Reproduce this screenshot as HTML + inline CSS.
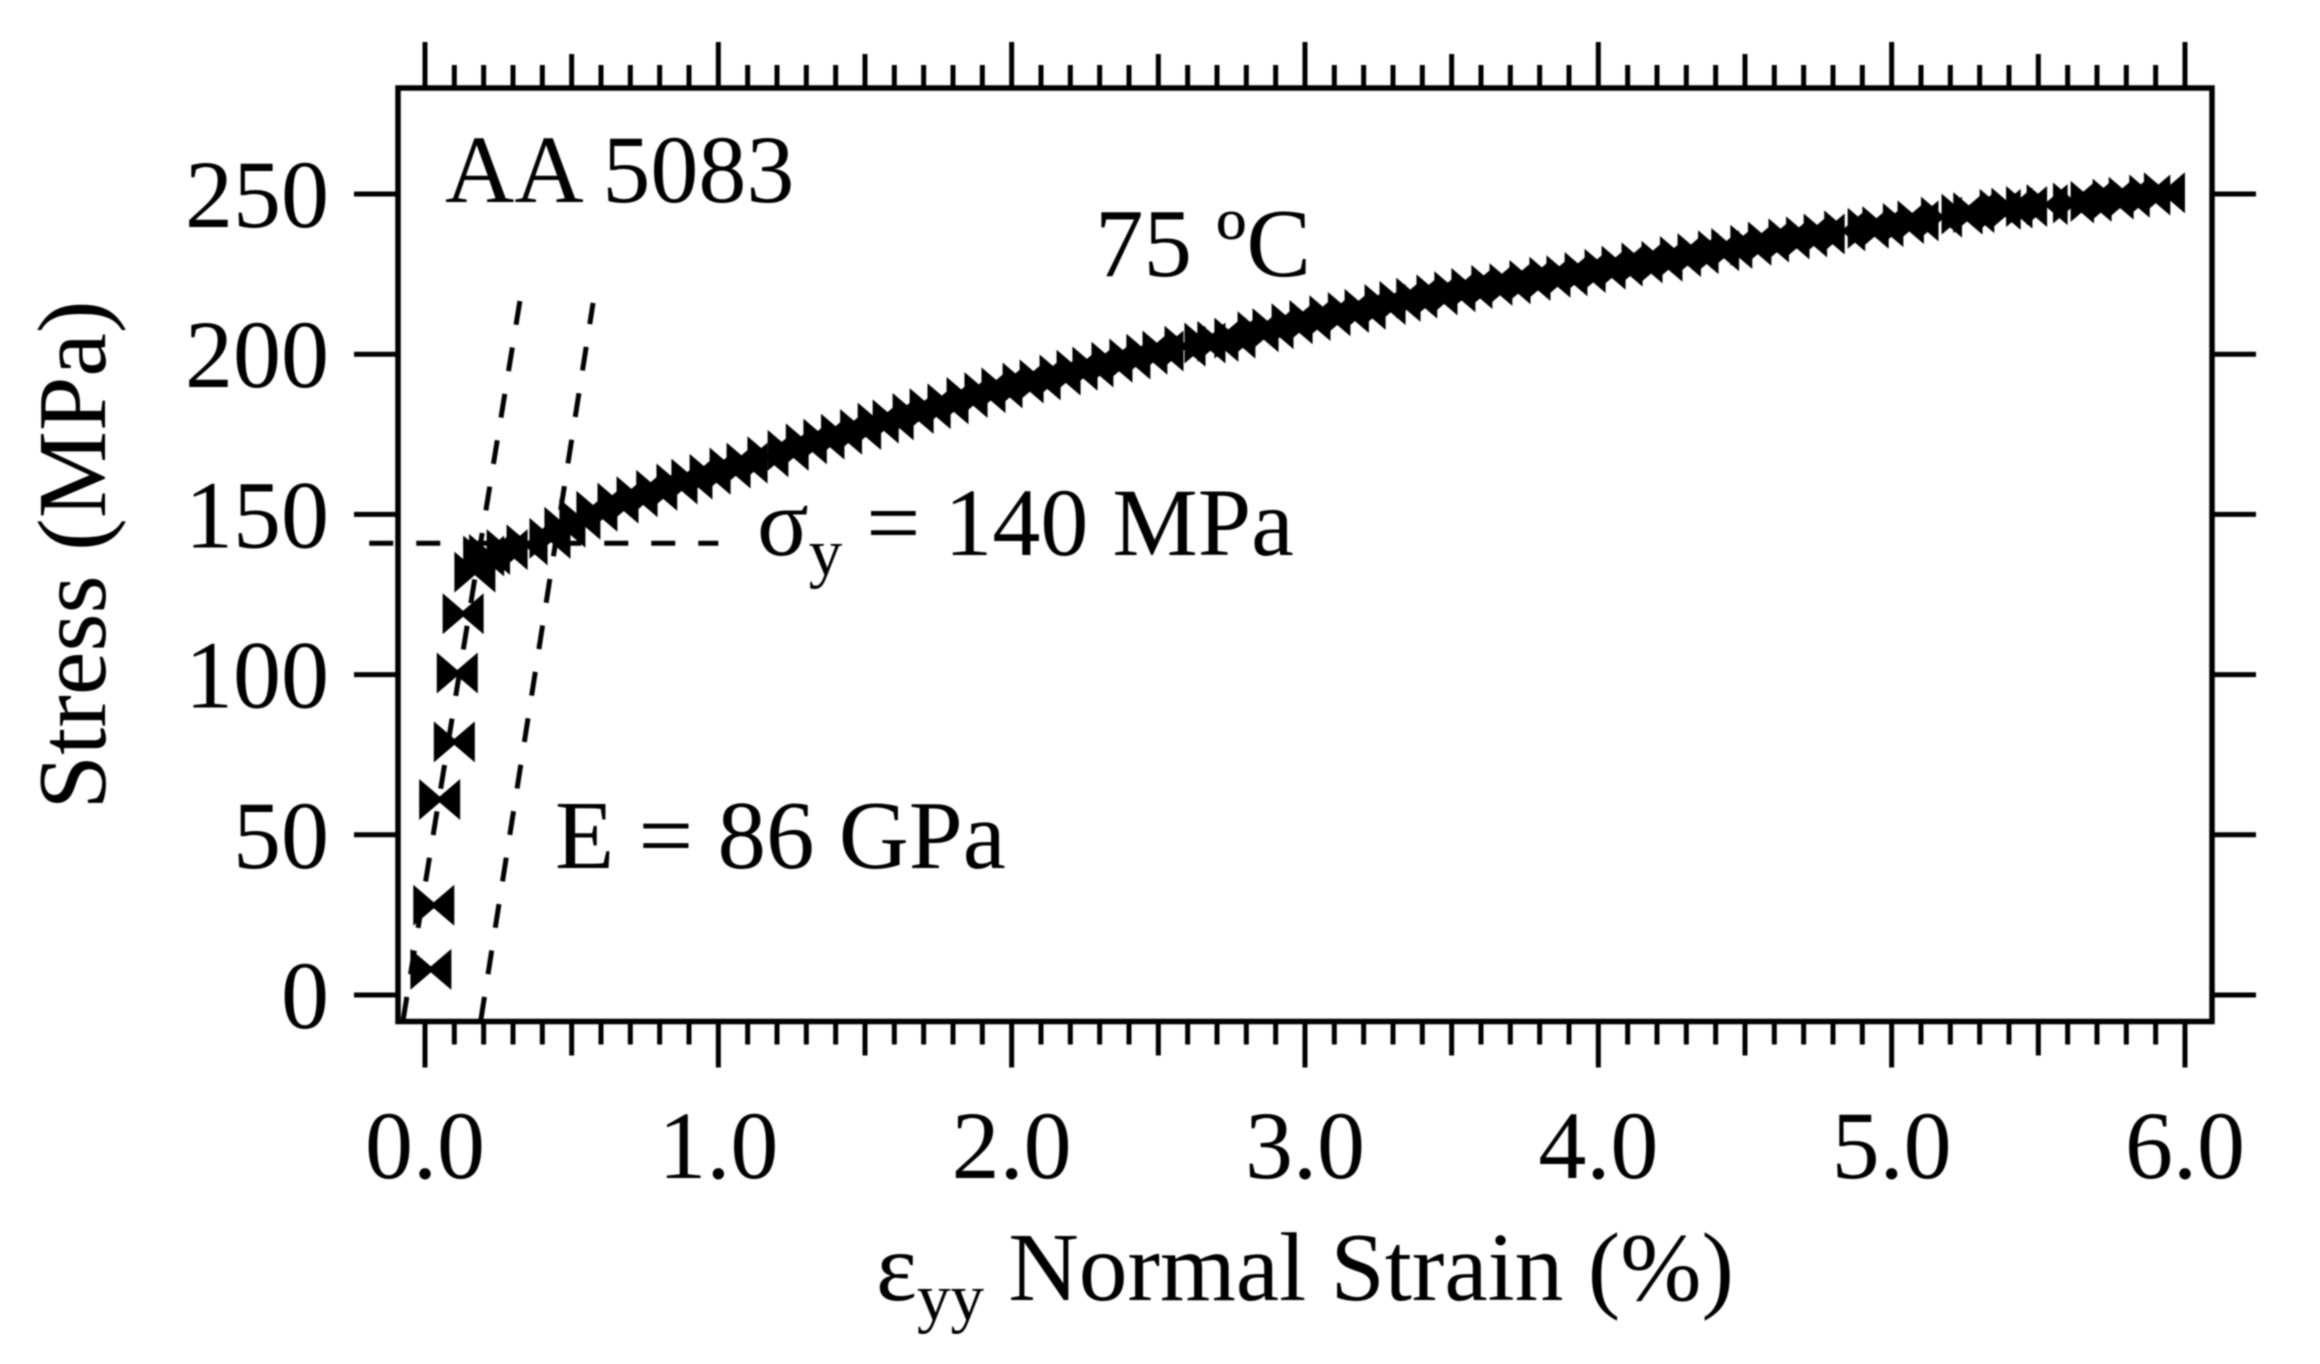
<!DOCTYPE html>
<html lang="en">
<head>
<meta charset="utf-8">
<title>AA 5083 stress-strain at 75 °C</title>
<style>
  html, body { margin: 0; padding: 0; background: #fff; width: 2320px; height: 1364px; overflow: hidden; }
  svg { display: block; filter: blur(0.7px); }
  text { font-family: "Liberation Serif", serif; fill: #000; }
</style>
</head>
<body>
<svg id="chart" xmlns="http://www.w3.org/2000/svg" width="2320" height="1364" viewBox="0 0 2320 1364">
  <rect x="0" y="0" width="2320" height="1364" fill="#fff"/>
  <g id="guides"></g>
  <g id="series"></g>
  <rect x="398" y="88" width="1814" height="933.5" fill="none" stroke="#000" stroke-width="5.5"/>
  <g id="ticks"></g>
  <g id="labels" font-size="96"></g>
  <text transform="translate(105,555) rotate(-90)" text-anchor="middle" font-size="98">Stress (MPa)</text>
  <text x="876" y="1300" font-size="97.5">ε<tspan dy="20" font-size="67">yy</tspan><tspan dy="-20"> Normal Strain (%)</tspan></text>
  <text x="445" y="202" font-size="96">AA 5083</text>
  <text x="1095" y="276" font-size="97">75 ºC</text>
  <text x="757" y="555" font-size="96">σ<tspan dy="20" font-size="67">y</tspan><tspan dy="-20"> = 140 MPa</tspan></text>
  <text x="555" y="868" font-size="97">E = 86 GPa</text>
</svg>
<script>
// Chart data
const strainValues = [
  0.02,0.03,0.05,0.10,0.11,0.13,0.17,0.20,
  0.22,0.28,0.348,0.426,0.477,0.528,0.586,0.658,0.723,0.79,
  0.859,0.91,0.972,1.04,1.098,1.169,1.238,1.30,1.36,1.42,
  1.485,1.545,1.596,1.664,1.722,1.783,1.848,1.909,1.967,2.039,
  2.097,2.165,2.223,2.277,2.342,2.403,2.461,2.516,2.591,2.659,
  2.703,2.761,2.84,2.891,2.956,3.017,3.085,3.148,3.205,3.273,
  3.324,3.381,3.45,3.511,3.569,3.637,3.699,3.767,3.835,3.893,
  3.955,4.023,4.081,4.149,4.217,4.28,4.34,4.41,4.455,4.52,
  4.58,4.65,4.71,4.77,4.84,4.92,4.97,5.04,5.09,5.17,
  5.24,5.28,5.37,5.41,5.46,5.53,5.62,5.68,5.755,5.81,
  5.88,5.93
];
const stressValues = [
  8,28,61,79,100.5,119,132,137,
  137.5,139,140.5,142.5,146,148.5,151,153.5,155.5,157.5,
  159.5,161,162.5,164.5,166,168,170,172,173.5,175,
  176.5,178.5,179.5,181.5,183,184.5,186.5,188,189.5,191,
  192,193.5,195,196,197.5,198.5,200,201,202.5,203.5,
  204,205,207,208,209.5,210.5,212,213,214,215.5,
  216.5,217.5,218.5,219.5,220.5,221.5,222,223,224,224.5,
  225.5,226.5,227.5,228.5,229,230.5,231.4,232.3,233,234,
  235,236,236.6,237.5,238.5,239.3,239.8,240.8,241.6,242.8,
  243.7,244.2,245.2,245.6,246.1,246.7,247.2,247.7,248.4,249,
  249.7,250.4
];
const xMajorTicks = [0,1,2,3,4,5,6];
const xTickLabels = ["0.0","1.0","2.0","3.0","4.0","5.0","6.0"];
const yTicks = [0,50,100,150,200,250];
const yTickLabels = ["0","50","100","150","200","250"];
const elasticLineA = [[-0.075,-8],[0.326,218]];
const elasticLineB = [[0.19,-8],[0.573,216]];
const yieldLine = [[-0.19,141],[1.0,141]];

// Axis functions
const xScale = v => 425 + v * 293.33;
const yScale = v => 995 - v * 3.204;

const NS = 'http://www.w3.org/2000/svg';
const guides = document.getElementById('guides');
const series = document.getElementById('series');
const ticks = document.getElementById('ticks');
const labels = document.getElementById('labels');

function line(parent, x1, y1, x2, y2, width) {
  const el = document.createElementNS(NS, 'line');
  el.setAttribute('x1', x1);
  el.setAttribute('y1', y1);
  el.setAttribute('x2', x2);
  el.setAttribute('y2', y2);
  el.setAttribute('stroke', '#000');
  el.setAttribute('stroke-width', width);
  parent.appendChild(el);
  return el;
}

function guide(points, name) {
  const el = line(guides, xScale(points[0][0]), yScale(points[0][1]), xScale(points[1][0]), yScale(points[1][1]), 5);
  el.setAttribute('stroke-dasharray', '24 23');
  
  
}
guide(elasticLineA, 'elastic-fit-line');
guide(elasticLineB, 'elastic-offset-line');
guide(yieldLine, 'yield-stress-line');

// Bow-tie markers
const s = 20.5;
strainValues.forEach((v, i) => {
  const cx = xScale(v);
  const cy = yScale(stressValues[i]);
  const el = document.createElementNS(NS, 'polygon');
  el.setAttribute('points', [
    [cx - s, cy - s], [cx, cy - 3], [cx + s, cy - s],
    [cx + s, cy + s], [cx, cy + 3], [cx - s, cy + s]
  ].map(p => p.join(',')).join(' '));
  el.setAttribute('fill', '#000');
  
  
  series.appendChild(el);
});

// X ticks, top and bottom
for (let i = 0; i <= 60; i++) {
  const v = i / 10;
  const len = i % 10 === 0 ? 46 : (i % 5 === 0 ? 34 : 23);
  const px = xScale(v);
  const bottom = line(ticks, px, 1021.5, px, 1021.5 + len, 5);
  
  
  const top = line(ticks, px, 88, px, 88 - len, 5);
  
  
}

// Y ticks, left and right
yTicks.forEach(v => {
  const py = yScale(v);
  const left = line(ticks, 354, py, 398, py, 5);
  
  
  const right = line(ticks, 2212, py, 2256, py, 5);
  
  
});

// Tick labels
xMajorTicks.forEach((v, i) => {
  const t = document.createElementNS(NS, 'text');
  t.setAttribute('x', xScale(v));
  t.setAttribute('y', 1178);
  t.setAttribute('text-anchor', 'middle');
  
  
  t.textContent = xTickLabels[i];
  labels.appendChild(t);
});
yTicks.forEach((v, i) => {
  const t = document.createElementNS(NS, 'text');
  t.setAttribute('x', 329);
  t.setAttribute('y', yScale(v) + 33);
  t.setAttribute('text-anchor', 'end');
  
  
  t.textContent = yTickLabels[i];
  labels.appendChild(t);
});
</script>
</body>
</html>
